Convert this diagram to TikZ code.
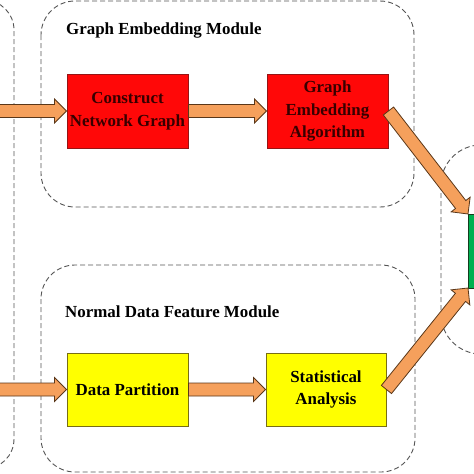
\documentclass[tikz,border=0pt]{standalone}
\usepackage{fontspec}
\setmainfont{Liberation Serif}
\usetikzlibrary{calc}
\definecolor{arrfill}{RGB}{245,160,92}
\definecolor{arrline}{RGB}{90,55,25}
\definecolor{boxred}{RGB}{255,8,8}
\definecolor{boxredline}{RGB}{150,20,20}
\definecolor{redtext}{RGB}{55,0,0}
\definecolor{boxyellow}{RGB}{255,255,0}
\definecolor{boxyellowline}{RGB}{120,110,20}
\definecolor{boxgreen}{RGB}{0,176,80}
\definecolor{boxgreenline}{RGB}{20,60,30}
\definecolor{dashgray}{RGB}{85,85,85}
\newcommand{\fatarrow}[2]{%
  \coordinate (fa-n) at ($(#2)!12pt!(#1)$);
  \filldraw[fatarrowstyle] ($(#1)!6.5pt!90:(#2)$) -- ($(fa-n)!6.5pt!90:(#2)$) -- ($(fa-n)!12pt!90:(#2)$) -- (#2) -- ($(fa-n)!12pt!-90:(#2)$) -- ($(fa-n)!6.5pt!-90:(#2)$) -- ($(#1)!6.5pt!-90:(#2)$) -- cycle;}
\tikzset{
  fatarrowstyle/.style={fill=arrfill, draw=arrline, line width=0.8pt, line join=miter},
  cont/.style={draw=dashgray, line width=0.9pt, dash pattern=on 5pt off 3pt, rounded corners=#1},
  cont/.default=34pt,
  txt/.style={font=\fontsize{16.9}{22.5}\selectfont\bfseries, align=center},
  redbox/.style={txt, text=redtext, fill=boxred, draw=boxredline, line width=0.9pt, minimum width=121pt, minimum height=74pt, inner sep=0pt},
  yelbox/.style={txt, text=black, fill=boxyellow, draw=boxyellowline, line width=0.9pt, minimum width=121pt, minimum height=73pt, inner sep=0pt},
  grnbox/.style={fill=boxgreen, draw=boxgreenline, line width=0.9pt},
  modtitle/.style={txt, anchor=west, inner sep=0pt}
}
\begin{document}
\begin{tikzpicture}[x=1pt,y=-1pt]
\useasboundingbox (0,0) rectangle (474,474);
\clip (0,0) rectangle (474,474);
% containers
\draw[cont=30pt] (-100,0) rectangle (14,469);
\draw[cont] (41,1) rectangle (414,207);
\draw[cont] (41,265) rectangle (415,472);
\draw[cont=40pt] (441,145) rectangle (540,354);
% titles
\node[modtitle] (t1) at (66,31) {Graph Embedding Module};
\node[modtitle] (t2) at (65,312) {Normal Data Feature Module};
% boxes
\node[redbox] (cng) at (127.5,111) {Construct\\Network Graph};
\node[redbox] (gea) at (327.5,111) {Graph\\Embedding\\Algorithm};
\node[yelbox] (dp) at (127.5,389.5) {Data Partition};
\node[yelbox, minimum width=120pt] (sa) at (326,389.5) {Statistical\\Analysis};
\path[grnbox] (468,214) rectangle (490,288);
\coordinate (gnw) at (468,214);
\coordinate (gsw) at (468,288);
% free ends
\coordinate (in1) at (-2,111);
\coordinate (in2) at (-2,389.5);
% arrows
\fatarrow{in1}{cng.west}
\fatarrow{cng.east}{gea.west}
\fatarrow{in2}{dp.west}
\fatarrow{dp.east}{sa.west}
\fatarrow{gea.east}{gnw}
\fatarrow{sa.east}{gsw}
\end{tikzpicture}
\end{document}
